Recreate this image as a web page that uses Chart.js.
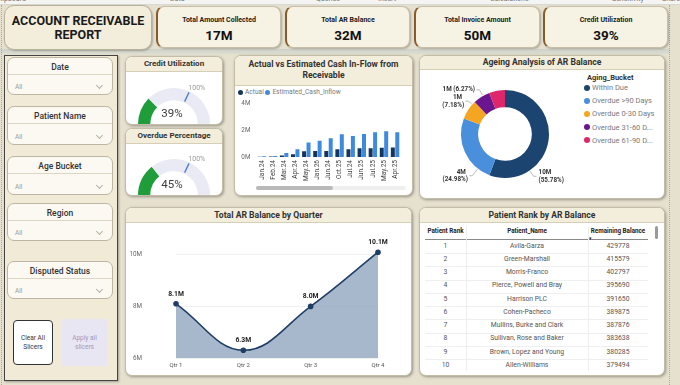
<!DOCTYPE html>
<html><head><meta charset="utf-8">
<script src="https://cdn.jsdelivr.net/npm/chart.js@4.4.1/dist/chart.umd.min.js"></script>
<style>
*{box-sizing:border-box;margin:0;padding:0}
body{width:680px;height:385px;overflow:hidden;background:#e6e1cf;font-family:Roboto,"Noto Sans",sans-serif;position:relative}
.a{position:absolute}
.card{position:absolute;background:#fff;border:1px solid #c3bca6;border-radius:7px;box-shadow:1px 1px 3px rgba(0,0,0,.35);overflow:hidden}
.hdr{position:absolute;left:0;right:0;top:0;background:#f3eedb;border-bottom:1px solid #d6cfb8;text-align:center;font-weight:700;color:#333}
.kpi{position:absolute;top:6px;height:42px;background:#f6f2e4;border:1px solid #c6bea6;border-left:2px solid #8b5a2b;border-radius:8px;box-shadow:1px 1px 2px rgba(0,0,0,.25);text-align:center}
.kt{position:absolute;left:0;right:0;top:9px;font-size:7px;font-weight:700;color:#222}
.kv{position:absolute;left:0;right:0;top:20px;font-size:13.5px;font-weight:700;color:#111}
.slicer{position:absolute;left:7px;width:106px;background:#fbf9f2;border:1px solid #bdb6a3;border-radius:7px}
.st{position:absolute;left:0;right:0;top:2px;height:15px;text-align:center;font-size:8.5px;color:#333;font-weight:500;border-bottom:1px solid #ddd6c4;line-height:14px}
.sv{position:absolute;left:7px;font-size:6.5px;color:#a09a90}
.chev{position:absolute;right:10px;width:5px;height:5px;border-right:1px solid #b5b0a6;border-bottom:1px solid #b5b0a6;transform:rotate(45deg)}
canvas{position:absolute}
.rib{position:absolute;top:-5px;font-size:7px;color:#777}
.lg{position:absolute;font-size:7.5px;color:#7a7a7a;white-space:nowrap}
.dot{display:inline-block;width:6px;height:6px;border-radius:50%;margin-right:2px;vertical-align:-0.5px}
.td{position:absolute;text-align:center;font-size:6.8px;color:#555;white-space:nowrap}
.th{position:absolute;text-align:center;font-size:6.3px;color:#222;font-weight:700;white-space:nowrap}
</style></head>
<body>
<!-- ribbon strip -->
<div class="a" style="left:0;top:0;width:680px;height:5px;background:#f4f4f2;border-bottom:1px solid #d8d8d4"></div>
<div class="rib" style="left:-4px">Clipboard</div>
<div class="rib" style="left:170px">Data</div>
<div class="rib" style="left:316px">Queries</div>
<div class="rib" style="left:378px">Insert</div>
<div class="rib" style="left:490px">Calculations</div>
<div class="rib" style="left:612px">Sensitivity</div>
<div class="rib" style="left:662px">Share</div>
<div class="a" style="left:0;top:49px;width:670px;height:5px;background:linear-gradient(#cfd2c8,#dcddd2)"></div>
<div class="a" style="left:669px;top:5px;width:0;height:380px;border-left:1px dotted #aaa"></div>
<div class="a" style="left:1px;top:5px;width:0;height:380px;border-left:1px dotted #aaa"></div>

<!-- title -->
<div class="a" style="left:4px;top:5px;width:148px;height:45px;background:#f3eedc;border:1px solid #b9b19a;border-radius:10px;box-shadow:1px 1px 2px rgba(0,0,0,.25);text-align:center;font-weight:700;font-size:12.5px;line-height:14px;color:#1a1a1a;padding-top:8px">ACCOUNT RECEIVABLE<br>REPORT</div>

<div class="kpi" style="left:156px;width:125px"><div class="kt" id="t1"></div><div class="kv" id="k1"></div></div>
<div class="kpi" style="left:285px;width:125px"><div class="kt" id="t2"></div><div class="kv" id="k2"></div></div>
<div class="kpi" style="left:414px;width:126px"><div class="kt" id="t3"></div><div class="kv" id="k3"></div></div>
<div class="kpi" style="left:543px;width:125px"><div class="kt" id="t4"></div><div class="kv" id="k4"></div></div>

<!-- filter panel -->
<div class="a" style="left:4px;top:55px;width:114px;height:326px;background:#f1ead7;border:1px solid #444;box-shadow:1px 1px 2px rgba(0,0,0,.3)"></div>
<div class="slicer" style="top:57px;height:38px"><div class="st">Date</div><div class="sv" style="top:25px">All</div><div class="chev" style="top:25px"></div></div>
<div class="slicer" style="top:106px;height:39px"><div class="st">Patient Name</div><div class="sv" style="top:26px">All</div><div class="chev" style="top:26px"></div></div>
<div class="slicer" style="top:156px;height:39px"><div class="st">Age Bucket</div><div class="sv" style="top:26px">All</div><div class="chev" style="top:26px"></div></div>
<div class="slicer" style="top:203px;height:38px"><div class="st">Region</div><div class="sv" style="top:25px">All</div><div class="chev" style="top:25px"></div></div>
<div class="slicer" style="top:261px;height:38px"><div class="st">Disputed Status</div><div class="sv" style="top:25px">All</div><div class="chev" style="top:25px"></div></div>
<div class="a" style="left:13px;top:320px;width:40px;height:45px;background:#fff;border:1.5px solid #333;border-radius:4px;font-size:6.5px;color:#333;text-align:center;padding-top:13px;line-height:9px">Clear All<br>Slicers</div>
<div class="a" style="left:62px;top:319px;width:45px;height:47px;background:#e9e6f3;font-size:6.5px;color:#9d97c2;text-align:center;padding-top:15px;line-height:9px">Apply all<br>slicers</div>

<!-- gauge cards -->
<div class="card" style="left:125px;top:56px;width:98px;height:69px"><div class="hdr" style="height:15px;font-size:8px;line-height:14px">Credit Utilization</div></div>
<div class="card" style="left:125px;top:128px;width:98px;height:68px"><div class="hdr" style="height:15px;font-size:8px;line-height:14px">Overdue Percentage</div></div>

<!-- bar card -->
<div class="card" style="left:234px;top:55px;width:179px;height:141px"><div class="hdr" style="height:30px;font-size:8.6px;line-height:11px;padding-top:3px">Actual vs Estimated Cash In-Flow from<br>Receivable</div></div>
<div class="lg" style="left:238px;top:88px;font-size:6.6px"><span class="dot" style="background:#14365e;width:5px;height:5px"></span>Actual <span class="dot" style="background:#3d8ae0;width:5px;height:5px"></span>Estimated_Cash_Inflow</div>
<div class="a" style="left:256px;top:186px;width:150px;height:4px;background:#efefef;border-radius:2px"></div>
<div class="a" style="left:256px;top:186px;width:77px;height:4px;background:#b9b9b9;border-radius:2px"></div>

<!-- donut card -->
<div class="card" style="left:419px;top:55px;width:246px;height:144px"><div class="hdr" style="height:14px;font-size:8.6px;line-height:13px">Ageing Analysis of AR Balance</div></div>
<div id="donutLegend"></div>

<!-- line card -->
<div class="card" style="left:125px;top:207px;width:287px;height:169px"><div class="hdr" style="height:15px;font-size:8.6px;line-height:14px">Total AR Balance by Quarter</div></div>

<!-- table card -->
<div class="card" style="left:419px;top:207px;width:246px;height:169px"><div class="hdr" style="height:15px;font-size:8.6px;line-height:14px">Patient Rank by AR Balance</div></div>
<div id="tbl"></div>

<canvas id="g1" width="97" height="54" style="left:125px;top:70px"></canvas>
<canvas id="g2" width="97" height="54" style="left:125px;top:141px"></canvas>
<canvas id="bar" width="170" height="88" style="left:236px;top:98px"></canvas>
<canvas id="donut" width="172" height="130" style="left:419px;top:68px"></canvas>
<canvas id="line" width="286" height="153" style="left:125px;top:222px"></canvas>

<script>
// ---------- data ----------
const kpiLabels = ["Total Amount Collected","Total AR Balance","Total Invoice Amount","Credit Utilization"];
const kpiValues = ["17M","32M","50M","39%"];

const creditUtilization = 39;
const overduePercentage = 45;
const gaugeTarget = 100;
const gaugeMax = 156;

const months = ["Jan.24","Feb.24","Mar.24","Apr.24","May.24","Jan.26","Jun.24","Oct.25","Jul.24","Jun.25","Jul.25","May.25","Apr.25"];
const actualInflow =    [0.02,0.03,0.12,0.20,0.43,0.45,0.45,0.58,0.58,0.65,0.65,0.68,0.70];
const estimatedInflow = [0.05,0.08,0.30,0.58,1.08,1.20,1.38,1.68,1.55,1.70,1.83,1.90,1.83];
const barTicks = [0,2,4];

const agingBuckets = ["Within Due","Overdue >90 Days","Overdue 0-30 Days","Overdue 31-60 Days","Overdue 61-90 Days"];
const agingLegendText = ["Within Due","Overdue >90 Days","Overdue 0-30 Days","Overdue 31-60 D...","Overdue 61-90 D..."];
const agingPct = [55.78,24.98,7.18,6.27,5.79];
const agingAmount = ["10M","4M","1M","1M",null];

const quarters = ["Qtr 1","Qtr 2","Qtr 3","Qtr 4"];
const quarterBalance = [8.1,6.3,8.0,10.1];
const quarterTicks = [6,8,10];

const patientRank = [1,2,3,4,5,6,7,8,9,10];
const patientName = ["Avila-Garza","Green-Marshall","Morris-Franco","Pierce, Powell and Bray","Harrison PLC","Cohen-Pacheco","Mullins, Burke and Clark","Sullivan, Rose and Baker","Brown, Lopez and Young","Allen-Williams"];
const remainingBalance = [429778,415579,402797,395690,391650,389875,387876,383638,380285,379494];

// ---------- styles ----------
const agingColors = ["#1b4471","#4a8fdc","#f4a622","#6a178f","#e0266a"];
const donutLabelAngles = [56,128,222,240,null];
const donutLabelExt = [7,9,5,7,0];

Chart.defaults.font.family = "Roboto, 'Noto Sans', sans-serif";
Chart.defaults.animation = false;
Chart.defaults.responsive = false;
Chart.defaults.plugins.legend.display = false;
Chart.defaults.plugins.tooltip.enabled = false;

// KPI text
[1,2,3,4].forEach((n,i)=>{
  document.getElementById('t'+n).textContent = kpiLabels[i];
  document.getElementById('k'+n).textContent = kpiValues[i];
});

// ---------- gauges ----------
function gauge(id, value){
  const gaugePlugin = {
    id:'gaugeText',
    afterDatasetsDraw(chart){
      const arc = chart.getDatasetMeta(0).data[0];
      const {x,y,outerRadius,innerRadius} = arc.getProps(['x','y','outerRadius','innerRadius'],true);
      const ctx = chart.ctx;
      ctx.save();
      const a = Math.PI + Math.PI*(gaugeTarget/gaugeMax);
      ctx.strokeStyle = '#4a7fd0'; ctx.lineWidth = 1.3;
      ctx.beginPath();
      ctx.moveTo(x+Math.cos(a)*(innerRadius+1), y+Math.sin(a)*(innerRadius+1));
      ctx.lineTo(x+Math.cos(a)*(outerRadius-1), y+Math.sin(a)*(outerRadius-1));
      ctx.stroke();
      ctx.fillStyle = '#9a9a9a'; ctx.font = "7px Roboto"; ctx.textAlign='left'; ctx.textBaseline='middle';
      ctx.fillText(gaugeTarget+'%', x+Math.cos(a)*(outerRadius+2)-2, y+Math.sin(a)*(outerRadius+2)-1);
      ctx.fillStyle = '#3c3c3c'; ctx.font = "11.5px Roboto"; ctx.textAlign='center';
      ctx.fillText(value+'%', x-2, y-10);
      ctx.restore();
    }
  };
  new Chart(document.getElementById(id), {
    type:'doughnut',
    data:{labels:['value','rest'], datasets:[{data:[value, gaugeMax-value], backgroundColor:['#1f9d3b','#eaeaf5'], borderWidth:0}]},
    options:{rotation:-90, circumference:180, cutout:'66%', layout:{padding:{left:13,right:12,top:18,bottom:0}}},
    plugins:[gaugePlugin]
  });
}
gauge('g1', creditUtilization);
gauge('g2', overduePercentage);

// ---------- bar chart ----------
new Chart(document.getElementById('bar'), {
  type:'bar',
  data:{labels:months, datasets:[
    {label:'Actual', data:actualInflow, backgroundColor:'#14365e', categoryPercentage:0.8, barPercentage:0.9},
    {label:'Estimated_Cash_Inflow', data:estimatedInflow, backgroundColor:'#3d8ae0', categoryPercentage:0.8, barPercentage:0.9}
  ]},
  options:{
    layout:{padding:{top:5,right:3.6,left:0,bottom:0}},
    scales:{
      x:{grid:{display:false, drawTicks:false}, border:{display:false},
         ticks:{font:{size:6.5}, color:'#444', maxRotation:90, minRotation:90, autoSkip:false, padding:3},
         afterFit(s){s.height=29;}},
      y:{min:0,max:4, grid:{display:false, drawTicks:false}, border:{display:false},
         afterBuildTicks(s){s.ticks = barTicks.map(v=>({value:v}));},
         ticks:{font:{size:6.3}, color:'#666', padding:6, callback:v=>v+'M'},
         afterFit(s){s.width=20.4; s.paddingTop=0; s.paddingBottom=0;}}
    }
  }
});

// ---------- donut ----------
const donutLabels = {
  id:'donutLabels',
  afterDatasetsDraw(chart){
    const ctx = chart.ctx; const meta = chart.getDatasetMeta(0);
    ctx.save();
    meta.data.forEach((arc,i)=>{
      if(agingAmount[i]==null) return;
      const {x,y,outerRadius} = arc.getProps(['x','y','outerRadius'],true);
      const a = donutLabelAngles[i]*Math.PI/180;
      const e = donutLabelExt[i];
      const p1=[x+Math.cos(a)*(outerRadius+1), y+Math.sin(a)*(outerRadius+1)];
      const p2=[x+Math.cos(a)*(outerRadius+e), y+Math.sin(a)*(outerRadius+e)];
      const right = Math.cos(a)>0;
      const p3=[p2[0]+(right?3:-3), p2[1]];
      ctx.strokeStyle='#a8a8a8'; ctx.lineWidth=0.8;
      ctx.beginPath(); ctx.moveTo(...p1); ctx.lineTo(...p2); ctx.lineTo(...p3); ctx.stroke();
      ctx.fillStyle='#333'; ctx.font="bold 6.3px Roboto"; ctx.textBaseline='middle';
      ctx.textAlign = right?'left':'right';
      const tx = p3[0]+(right?2:-1.5);
      const pctTxt = '('+agingPct[i].toFixed(2)+'%)';
      if(i===3){ ctx.fillText(agingAmount[i]+' '+pctTxt, tx, p3[1]); }
      else { ctx.fillText(agingAmount[i], tx - (right?0:2), p3[1]-3.5); ctx.fillText(pctTxt, tx, p3[1]+4); }
    });
    ctx.restore();
  }
};
new Chart(document.getElementById('donut'), {
  type:'doughnut',
  data:{labels:agingBuckets, datasets:[{data:agingPct, backgroundColor:agingColors, borderWidth:0}]},
  options:{cutout:'61%', layout:{padding:{left:42,right:42,top:22,bottom:20}}},
  plugins:[donutLabels]
});
// legend
(function(){
  let h = '<div class="lg" style="left:587px;top:73px;font-weight:700;color:#333;font-size:7.5px">Aging_Bucket</div>';
  agingLegendText.forEach((t,i)=>{
    h += '<div class="lg" style="left:584px;top:'+(83+i*13.2)+'px"><span class="dot" style="background:'+agingColors[i]+'"></span>'+t+'</div>';
  });
  document.getElementById('donutLegend').innerHTML = h;
})();

// ---------- line chart ----------
const lineLabels = {
  id:'lineLabels',
  afterDatasetsDraw(chart){
    const ctx=chart.ctx; ctx.save();
    ctx.fillStyle='#222'; ctx.font="bold 6.8px Roboto"; ctx.textAlign='center'; ctx.textBaseline='middle';
    chart.getDatasetMeta(0).data.forEach((p,i)=>{ ctx.fillText(quarterBalance[i].toFixed(1)+'M', p.x, p.y-10); });
    ctx.restore();
  }
};
new Chart(document.getElementById('line'), {
  type:'line',
  data:{labels:quarters, datasets:[{data:quarterBalance, borderColor:'#1f3e66', borderWidth:1.6, backgroundColor:'rgba(120,145,176,0.65)', fill:'start', tension:0.4, pointRadius:2.8, pointBackgroundColor:'#1f3e66', pointBorderWidth:0}]},
  options:{
    layout:{padding:{top:7,right:33,left:0,bottom:0}},
    scales:{
      x:{offset:false, grid:{display:false, drawTicks:false}, border:{display:false}, ticks:{font:{size:6},color:'#555',padding:4}, afterFit(s){s.height=17;}},
      y:{min:6,max:11, border:{display:false}, grid:{color:'#ececec', drawTicks:false, lineWidth:0.8},
         afterBuildTicks(s){s.ticks = quarterTicks.map(v=>({value:v}));},
         ticks:{font:{size:6.3},color:'#666',padding:34, callback:v=>v+'M'},
         afterFit(s){s.width=51; s.paddingTop=0; s.paddingBottom=0;}}
    }
  },
  plugins:[lineLabels]
});

// ---------- table ----------
(function(){
  const cols = [{l:425,w:41},{l:466,w:122},{l:588,w:60}];
  const heads = ["Patient Rank","Patient_Name","Remaining Balance"];
  let h = '';
  heads.forEach((t,i)=>{ h += '<div class="th" style="left:'+cols[i].l+'px;width:'+cols[i].w+'px;top:227px">'+t+'</div>'; });
  h += '<div class="a" style="left:425px;top:239px;width:223px;height:1px;background:#8a8a8a"></div>';
  h += '<div class="a" style="left:466px;top:226px;width:1px;height:145px;background:#eeeeee"></div>';
  h += '<div class="a" style="left:588px;top:226px;width:1px;height:145px;background:#eeeeee"></div>';
  h += '<div class="a" style="left:655px;top:226px;width:3px;height:13px;background:#9a9a9a;border-radius:2px"></div>';
  h += '<div class="a" style="left:589px;top:235px;font-size:5px;color:#222">▾</div>';
  patientRank.forEach((r,i)=>{
    const y = 241.5 + i*13.25;
    const vals = [r, patientName[i], remainingBalance[i]];
    vals.forEach((v,j)=>{ h += '<div class="td" style="left:'+cols[j].l+'px;width:'+cols[j].w+'px;top:'+y+'px">'+v+'</div>'; });
    if(i<9) h += '<div class="a" style="left:425px;top:'+(y+11.5)+'px;width:223px;height:1px;background:#efefef"></div>';
  });
  document.getElementById('tbl').innerHTML = h;
})();
</script>
</body></html>
